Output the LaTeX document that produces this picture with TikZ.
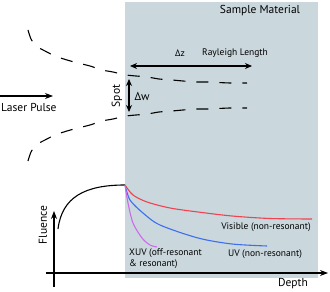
\documentclass[tikz,border=0pt]{standalone}
\usepackage{fontspec}
\setmainfont{PT Sans}
\usepackage{xcolor}
\usetikzlibrary{
	arrows.meta,
	calc,
	positioning
}
\definecolor{SampleGray}{RGB}{202,216,222}
\definecolor{VisRed}{RGB}{240,66,80}
\definecolor{UVBlue}{RGB}{61,110,240}
\definecolor{XUVViolet}{RGB}{204,106,232}
\tikzset{
	lbl/.style={font=\fontsize{9.5}{11}\selectfont, inner sep=1pt},
	biglbl/.style={font=\fontsize{11.5}{13}\selectfont, inner sep=1pt},
	beam/.style={line width=1.1pt, dash pattern=on 12pt off 11pt},
	axis/.style={line width=1.1pt, -{Stealth[length=8pt,width=6pt]}},
	dim/.style={line width=1.1pt, {Stealth[length=7pt,width=6pt]}-{Stealth[length=7pt,width=6pt]}},
	decay/.style={line width=1.1pt}
}

\begin{document}
\begin{tikzpicture}[x=10pt, y=10pt]
		\useasboundingbox (0,0) rectangle (33,29.2);
		% sample block
		\fill[SampleGray] (12.5,1.4) rectangle (31.8,29.0);
		\node[biglbl] (sample) at (26.0,28.1) {Sample Material};
		
		% focused beam
		\draw[beam] plot[smooth] coordinates {(2.8,26.2) (3.1,25.3) (3.6,24.6) (4.5,24.1) (5.5,23.6) (6.7,23.2) (7.8,22.9) (9.0,22.6) (10.2,22.2) (11.3,22.0) (12.6,21.7) (14.7,21.5) (15.9,21.3) (17.2,21.2) (18.3,21.1) (19.5,21.0) (20.7,21.0) (23.0,20.9) (24.7,20.9)};
		\draw[beam] plot[smooth] coordinates {(2.8,13.1) (3.1,14.0) (3.6,14.7) (4.5,15.2) (5.5,15.7) (6.7,16.1) (7.8,16.4) (9.0,16.7) (10.2,17.1) (11.3,17.3) (12.6,17.6) (14.7,17.8) (15.9,18.0) (17.2,18.1) (18.3,18.2) (19.5,18.3) (20.7,18.3) (23.0,18.4) (24.7,18.4)};
		
		\coordinate (pulseL) at (0,19.6);
		\coordinate (pulseR) at (5.3,19.6);
		\draw[axis] (pulseL) -- (pulseR);
		\node[biglbl, anchor=north west] (pulse) at (0,19.0) {Laser Pulse};
		
		\coordinate (zL) at (13.0,22.6);
		\coordinate (zR) at (25.2,22.6);
		\draw[dim] (zL) -- (zR);
		\node[lbl] (dz) at (18.0,23.9) {Δz};
		\node[lbl] (rayleigh) at (23.5,23.9) {Rayleigh Length};
		
		\coordinate (wT) at (12.9,21.3);
		\coordinate (wB) at (12.9,18.0);
		\draw[dim] (wT) -- (wB);
		\node[biglbl] (dw) at (14.2,19.6) {Δw};
		\node[biglbl, rotate=90] (spot) at (11.7,19.6) {Spot};
		
		% fluence vs depth
		\coordinate (O1) at (5.4,0.5);
		\coordinate (Ftop) at (5.4,8.1);
		\coordinate (O2) at (4.6,1.9);
		\coordinate (Dend) at (32.8,1.9);
		\draw[axis] (O1) -- (Ftop);
		\draw[axis] (O2) -- (Dend);
		\node[biglbl, rotate=90] (fluence) at (4.3,6.7) {Fluence};
		\node[biglbl] (depth) at (29.3,0.85) {Depth};
		
		\coordinate (peak) at (12.5,10.7);
		\draw[decay] (5.8,6.3) .. controls (6.2,9.5) and (8.5,10.7) .. (peak);
		\draw[decay, VisRed] plot[smooth] coordinates {(peak) (13.3,9.7) (14.7,9.0) (17.0,8.4) (19.8,8.0) (23.2,7.6) (27.0,7.35) (31.2,7.3)};
		\draw[decay, UVBlue] plot[smooth] coordinates {(peak) (13.0,9.2) (14.3,7.9) (16.0,6.7) (19.8,5.4) (23.2,4.8) (26.7,4.6)};
		\draw[decay, XUVViolet] plot[smooth] coordinates {(peak) (12.8,8.9) (13.3,6.9) (14.2,5.4) (15.0,4.7) (15.7,4.5)};
		
		\node[lbl, anchor=west, align=left] (xuv) at (12.8,3.3) {XUV (off-resonant\\\& resonant)};
		\node[lbl] (uv) at (26.5,3.8) {UV (non-resonant)};
		\node[lbl] (vis) at (26.6,6.5) {Visible (non-resonant)};
	\end{tikzpicture}
\end{document}
